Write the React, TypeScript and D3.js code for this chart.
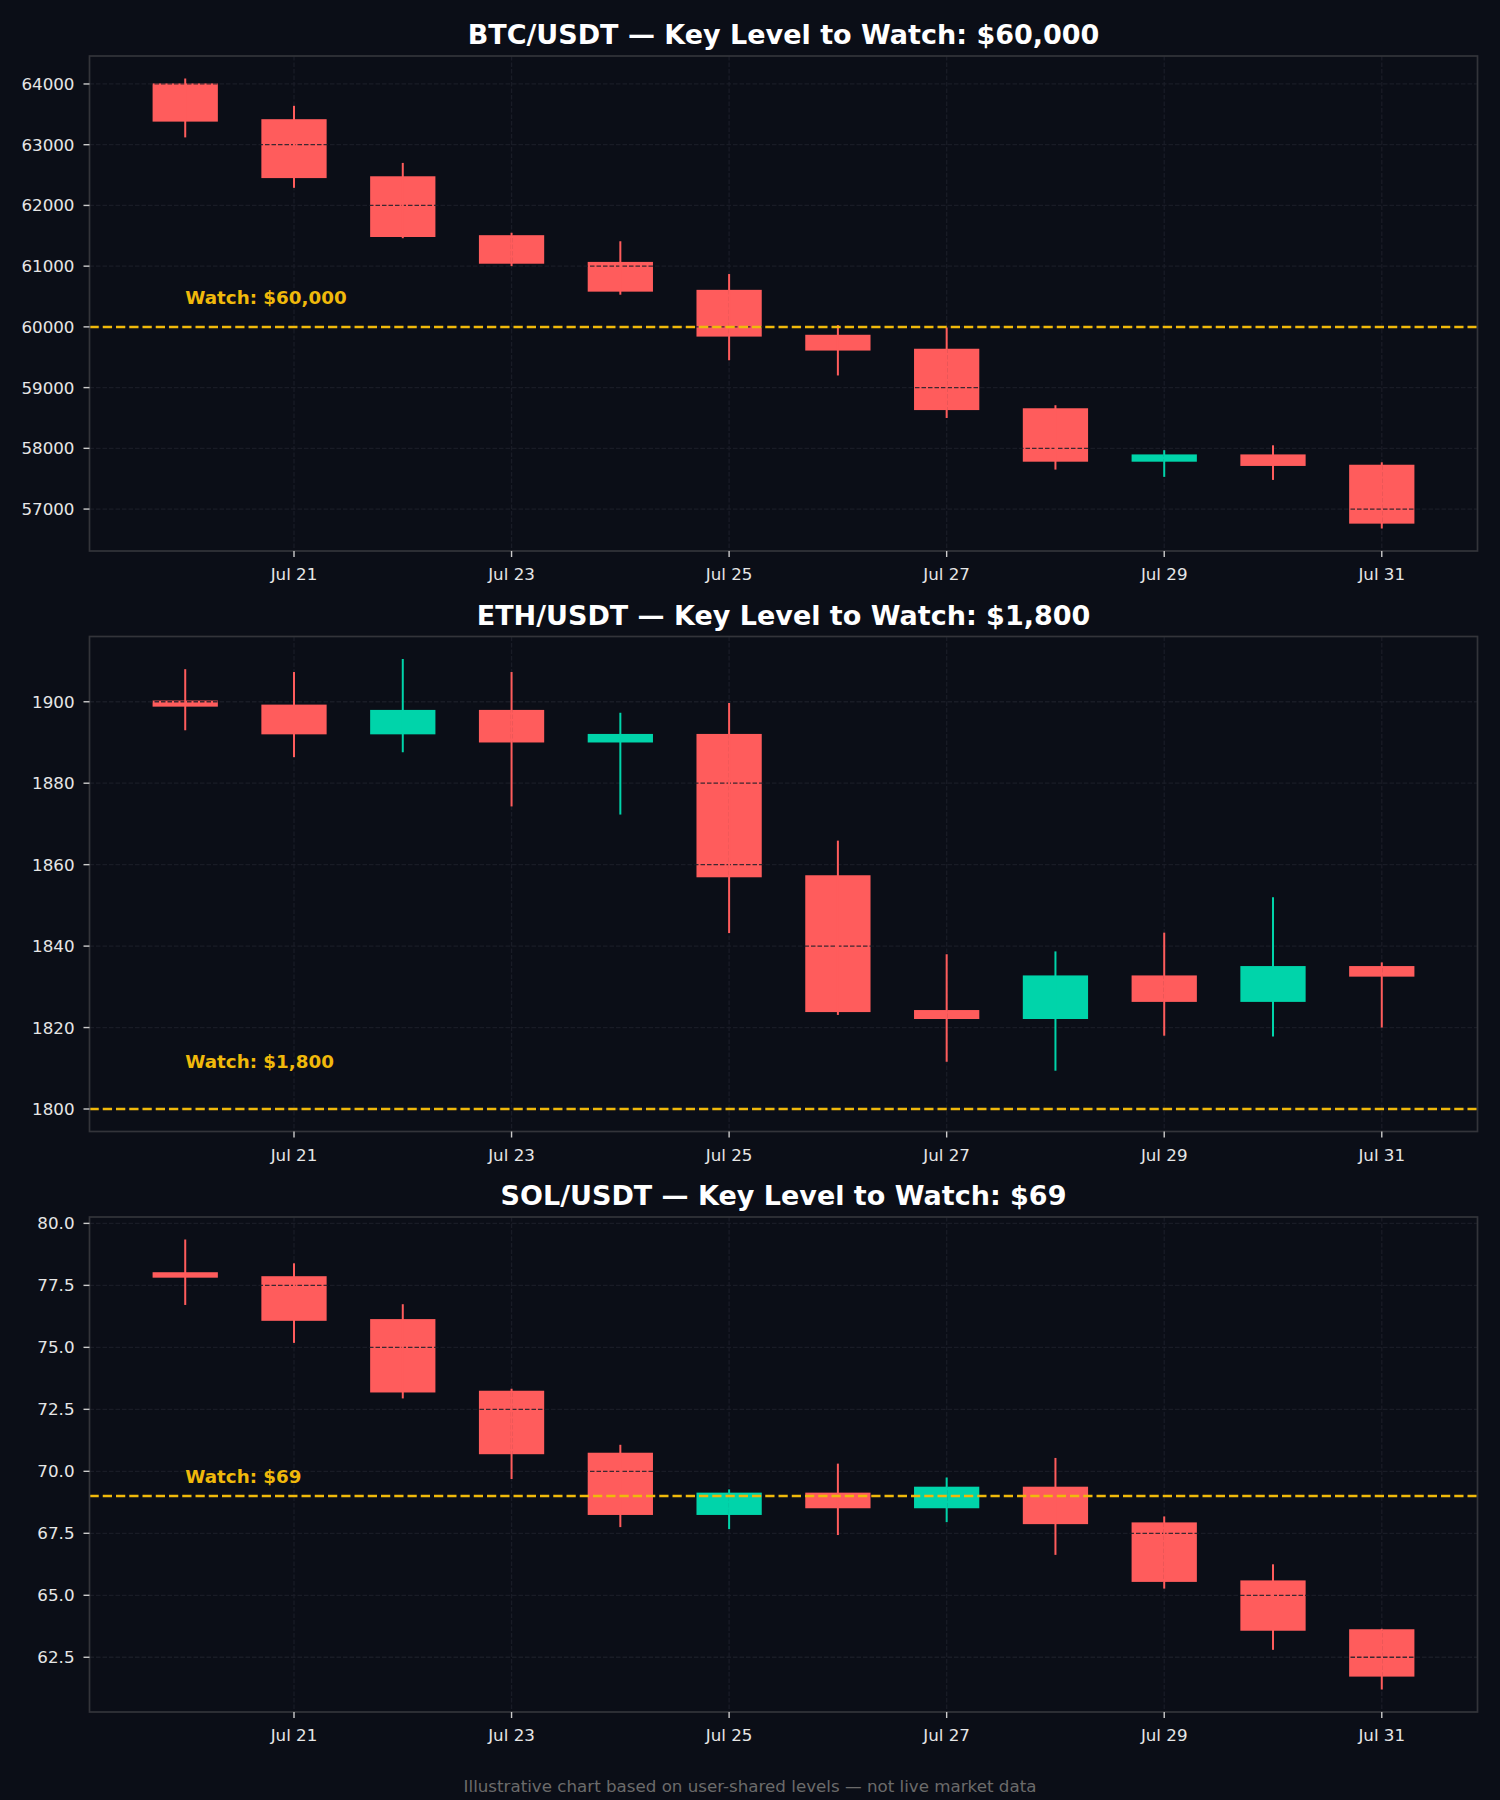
import React, { useEffect, useRef } from 'react'
import * as d3 from 'd3'

// trading days (one candle per day)
const days = [
    '2024-07-20', '2024-07-21', '2024-07-22', '2024-07-23', '2024-07-24', '2024-07-25',
    '2024-07-26', '2024-07-27', '2024-07-28', '2024-07-29', '2024-07-30', '2024-07-31',
]
const xTickDays = ['2024-07-21', '2024-07-23', '2024-07-25', '2024-07-27', '2024-07-29', '2024-07-31']

// BTC/USDT
const btcOpen = [64010, 63420, 62480, 61510, 61070, 60610, 59870, 59640, 58660, 57780, 57900, 57730]
const btcHigh = [64090, 63640, 62700, 61550, 61410, 60870, 60030, 59990, 58710, 57970, 58050, 57770]
const btcLow = [63120, 62290, 61460, 61000, 60530, 59450, 59200, 58500, 57650, 57530, 57480, 56680]
const btcClose = [63380, 62450, 61480, 61040, 60580, 59840, 59610, 58630, 57780, 57900, 57710, 56760]
const btcTicks = [57000, 58000, 59000, 60000, 61000, 62000, 63000, 64000]

// ETH/USDT
const ethOpen = [1900.3, 1899.3, 1892.0, 1898.0, 1890.0, 1892.1, 1857.4, 1824.3, 1822.1, 1832.8, 1826.3, 1835.1]
const ethHigh = [1908.0, 1907.3, 1910.5, 1907.3, 1897.3, 1899.7, 1865.9, 1838.0, 1838.7, 1843.3, 1852.0, 1836.0]
const ethLow = [1893.0, 1886.4, 1887.6, 1874.3, 1872.3, 1843.2, 1823.1, 1811.6, 1809.4, 1818.0, 1817.8, 1820.0]
const ethClose = [1898.8, 1892.0, 1898.0, 1890.0, 1892.1, 1856.9, 1823.8, 1822.1, 1832.8, 1826.3, 1835.1, 1832.5]
const ethTicks = [1800, 1820, 1840, 1860, 1880, 1900]

// SOL/USDT
const solOpen = [78.03, 77.87, 76.14, 73.25, 70.75, 68.24, 69.14, 68.51, 69.38, 67.94, 65.6, 63.63]
const solHigh = [79.35, 78.39, 76.74, 73.33, 71.07, 69.27, 70.31, 69.75, 70.54, 68.18, 66.25, 63.65]
const solLow = [76.71, 75.18, 72.94, 69.69, 67.75, 67.67, 67.43, 67.95, 66.63, 65.27, 62.8, 61.2]
const solClose = [77.81, 76.07, 73.18, 70.69, 68.24, 69.14, 68.51, 69.38, 67.87, 65.54, 63.57, 61.72]
const solTicks = [62.5, 65.0, 67.5, 70.0, 72.5, 75.0, 77.5, 80.0]

const watchLevels = [60000, 1800, 69]
const watchLabels = ['$60,000', '$1,800', '$69']
const pairs = ['BTC/USDT', 'ETH/USDT', 'SOL/USDT']

const BG = '#0b0e17'
const UP = '#00d4aa'
const DOWN = '#ff5c5c'
const WATCH = '#f0b90b'
const FONT = '"DejaVu Sans", sans-serif'

const W = 1500
const H = 1800
const LEFT = 89.5
const RIGHT = 1477.5
const PANEL_TOP = [56, 636.5, 1217]
const PANEL_H = 495

interface Panel {
    title: string
    open: number[]
    high: number[]
    low: number[]
    close: number[]
    ticks: number[]
    fmt: (v: number) => string
    level: number
}

const panels: Panel[] = [
    { title: `${pairs[0]} — Key Level to Watch: ${watchLabels[0]}`, open: btcOpen, high: btcHigh, low: btcLow, close: btcClose, ticks: btcTicks, fmt: d3.format('d'), level: watchLevels[0] },
    { title: `${pairs[1]} — Key Level to Watch: ${watchLabels[1]}`, open: ethOpen, high: ethHigh, low: ethLow, close: ethClose, ticks: ethTicks, fmt: d3.format('d'), level: watchLevels[1] },
    { title: `${pairs[2]} — Key Level to Watch: ${watchLabels[2]}`, open: solOpen, high: solHigh, low: solLow, close: solClose, ticks: solTicks, fmt: d3.format('.1f'), level: watchLevels[2] },
]

const App: React.FC = () => {
    const svgRef = useRef<SVGSVGElement | null>(null)

    useEffect(() => {
        document.body.style.margin = '0'
        document.body.style.background = BG
        if (!svgRef.current) return

        const svg = d3.select(svgRef.current)
        svg.selectAll('*').remove()

        svg.append('rect').attr('width', W).attr('height', H).attr('fill', BG)

        const parse = d3.utcParse('%Y-%m-%d')
        const dates = days.map((d) => parse(d) as Date)
        const DAY = 86400000
        const halfW = 0.3 * DAY
        // matplotlib-like 5% autoscale margin
        const x0 = dates[0].getTime() - halfW
        const x1 = dates[dates.length - 1].getTime() + halfW
        const xPad = (x1 - x0) * 0.05
        const x = d3
            .scaleUtc()
            .domain([new Date(x0 - xPad), new Date(x1 + xPad)])
            .range([LEFT, RIGHT])
        const tickDates = xTickDays.map((d) => parse(d) as Date)
        const fmtDate = d3.utcFormat('%b %d')

        panels.forEach((p, pi) => {
            const top = PANEL_TOP[pi]
            const bottom = top + PANEL_H
            const lo = Math.min(d3.min(p.low)!, p.level)
            const hi = Math.max(d3.max(p.high)!, p.level)
            const pad = (hi - lo) * 0.05
            const y = d3.scaleLinear().domain([lo - pad, hi + pad]).range([bottom, top])

            const g = svg.append('g')

            // candle bodies (below the grid, like matplotlib patches)
            g.selectAll('rect.body')
                .data(dates)
                .join('rect')
                .attr('class', 'body')
                .attr('x', (d) => x(new Date(d.getTime() - halfW)))
                .attr('width', (d) => x(new Date(d.getTime() + halfW)) - x(new Date(d.getTime() - halfW)))
                .attr('y', (_, i) => y(Math.max(p.open[i], p.close[i])))
                .attr('height', (_, i) => Math.max(1, Math.abs(y(p.open[i]) - y(p.close[i]))))
                .attr('fill', (_, i) => (p.close[i] >= p.open[i] ? UP : DOWN))

            // grid
            const grid = g.append('g').attr('stroke', '#1c1f29').attr('stroke-opacity', 0.85)
                .attr('stroke-width', 1.3).attr('stroke-dasharray', '4.5,2')
            grid.selectAll('line.h')
                .data(p.ticks)
                .join('line')
                .attr('x1', LEFT).attr('x2', RIGHT)
                .attr('y1', (d) => y(d)).attr('y2', (d) => y(d))
            grid.selectAll('line.v')
                .data(tickDates)
                .join('line')
                .attr('class', 'v')
                .attr('x1', (d) => x(d)).attr('x2', (d) => x(d))
                .attr('y1', top).attr('y2', bottom)

            // wicks
            g.selectAll('line.wick')
                .data(dates)
                .join('line')
                .attr('class', 'wick')
                .attr('x1', (d) => x(d)).attr('x2', (d) => x(d))
                .attr('y1', (_, i) => y(p.high[i])).attr('y2', (_, i) => y(p.low[i]))
                .attr('stroke', (_, i) => (p.close[i] >= p.open[i] ? UP : DOWN))
                .attr('stroke-width', 2)

            // watch level
            g.append('line')
                .attr('x1', LEFT).attr('x2', RIGHT)
                .attr('y1', y(p.level)).attr('y2', y(p.level))
                .attr('stroke', WATCH).attr('stroke-width', 2.5)
                .attr('stroke-dasharray', '9.25,4')
            g.append('text')
                .attr('x', x(dates[0]))
                .attr('y', y(p.level * 1.005) - 4.3)
                .attr('fill', WATCH)
                .attr('font-family', FONT)
                .attr('font-weight', 'bold')
                .attr('font-size', 18.3)
                .text(`Watch: ${watchLabels[pi]}`)

            // spines
            g.append('rect')
                .attr('x', LEFT).attr('y', top)
                .attr('width', RIGHT - LEFT).attr('height', PANEL_H)
                .attr('fill', 'none').attr('stroke', '#33343a').attr('stroke-width', 1.7)

            // y axis
            const ya = g.append('g')
            ya.selectAll('line')
                .data(p.ticks)
                .join('line')
                .attr('x1', LEFT - 6).attr('x2', LEFT)
                .attr('y1', (d) => y(d)).attr('y2', (d) => y(d))
                .attr('stroke', '#cccccc').attr('stroke-width', 1.4)
            ya.selectAll('text')
                .data(p.ticks)
                .join('text')
                .attr('x', LEFT - 15)
                .attr('y', (d) => y(d))
                .attr('dy', '0.36em')
                .attr('text-anchor', 'end')
                .attr('fill', '#e6e6e6')
                .attr('font-family', FONT)
                .attr('font-size', 16.7)
                .text((d) => p.fmt(d))

            // x axis
            const xa = g.append('g')
            xa.selectAll('line')
                .data(tickDates)
                .join('line')
                .attr('x1', (d) => x(d)).attr('x2', (d) => x(d))
                .attr('y1', bottom).attr('y2', bottom + 6)
                .attr('stroke', '#cccccc').attr('stroke-width', 1.4)
            xa.selectAll('text')
                .data(tickDates)
                .join('text')
                .attr('x', (d) => x(d))
                .attr('y', bottom + 29)
                .attr('text-anchor', 'middle')
                .attr('fill', '#e6e6e6')
                .attr('font-family', FONT)
                .attr('font-size', 16.7)
                .text((d) => fmtDate(d))

            // title
            g.append('text')
                .attr('x', (LEFT + RIGHT) / 2)
                .attr('y', top - 12)
                .attr('text-anchor', 'middle')
                .attr('fill', '#ffffff')
                .attr('font-family', FONT)
                .attr('font-weight', 'bold')
                .attr('font-size', 27)
                .text(p.title)
        })

        svg.append('text')
            .attr('x', W / 2)
            .attr('y', 1791.5)
            .attr('text-anchor', 'middle')
            .attr('fill', '#6b6b6b')
            .attr('font-family', FONT)
            .attr('font-size', 16.7)
            .text('Illustrative chart based on user-shared levels — not live market data')
    }, [])

    return <svg ref={svgRef} width={W} height={H} style={{ display: 'block' }} />
}

export default App
